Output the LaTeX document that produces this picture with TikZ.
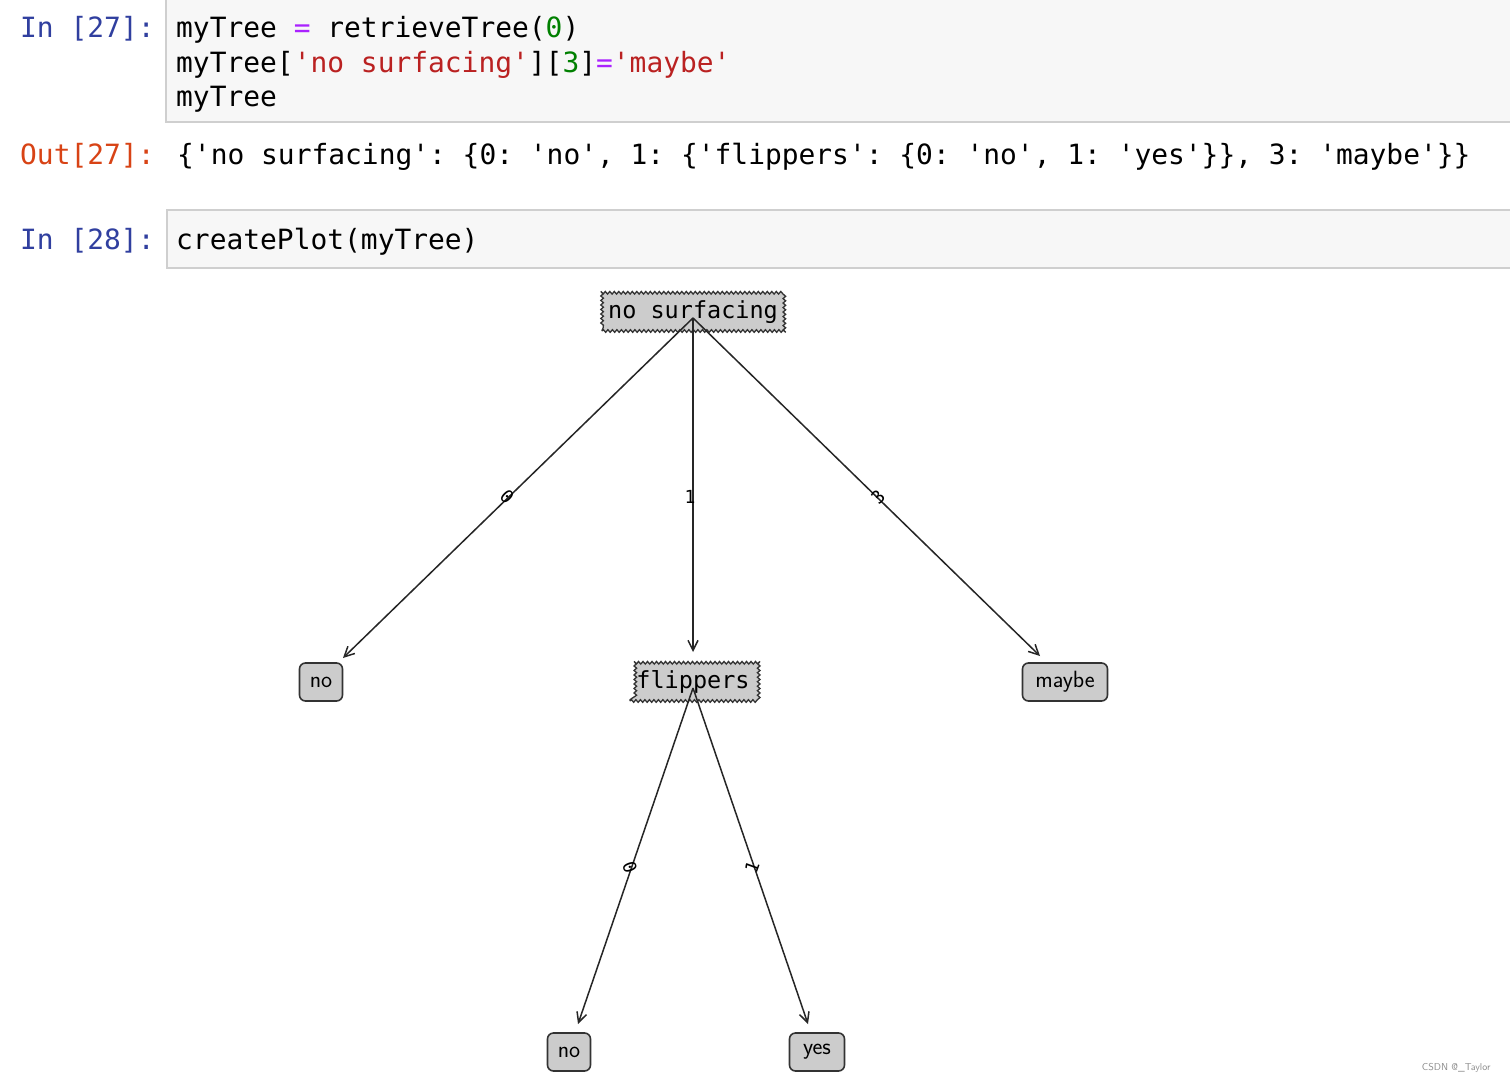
\documentclass[tikz,border=0pt]{standalone}
\usepackage{fontspec}
\setmonofont{DejaVu Sans Mono}
\usetikzlibrary{decorations.pathmorphing,arrows.meta}
\definecolor{inblue}{HTML}{303F9F}
\definecolor{outred}{HTML}{D84315}
\definecolor{strred}{HTML}{BA2121}
\definecolor{numgreen}{HTML}{008000}
\definecolor{oppurple}{HTML}{AA22FF}
\definecolor{cellbg}{HTML}{F7F7F7}
\definecolor{cellbd}{HTML}{CFCFCF}
\begin{document}
\begin{tikzpicture}[x=1pt,y=-1pt,
  code/.style={anchor=base west,inner sep=0,font=\fontsize{27.9}{34}\selectfont\ttfamily},
  cell/.style={fill=cellbg,draw=cellbd,line width=1.2pt},
  dec/.style={draw=black!80,fill=black!20,line width=1.3pt,decorate,decoration={snake,amplitude=1.3pt,segment length=4.5pt},inner sep=0,minimum height=38pt,font=\fontsize{23.5}{28}\selectfont\ttfamily},
  leaf/.style={draw=black!80,fill=black!20,line width=1.6pt,rounded corners=6pt,inner sep=0,minimum height=38pt,font=\fontsize{23.5}{28}\selectfont\sffamily},
  edge/.style={draw=black!85,line width=1.5pt,-{Straight Barb[length=10pt,width=10pt]}},
  elab/.style={font=\fontsize{18}{20}\selectfont\ttfamily,inner sep=0}]
\useasboundingbox (0,0) rectangle (1510,1084);
\fill[white] (0,0) rectangle (1510,1084);
\draw[cell] (166,-5) -- (166,122) -- (1515,122);
\fill[cellbg] (167,-5) rectangle (1515,121);
\draw[cell] (1515,210) -- (167,210) -- (167,268) -- (1515,268);
\node[code,text=inblue] (p1) at (20,37) {In [27]:};
\node[code] (l1) at (176,37) {myTree \textcolor{oppurple}{=} retrieveTree(\textcolor{numgreen}{0})};
\node[code] (l2) at (176,72) {myTree[\textcolor{strred}{'no surfacing'}][\textcolor{numgreen}{3}]\textcolor{oppurple}{=}\textcolor{strred}{'maybe'}};
\node[code] (l3) at (176,106) {myTree};
\node[code,text=outred] (p2) at (20,164) {Out[27]:};
\node[code] (o1) at (177,164) {\{'no surfacing': \{0: 'no', 1: \{'flippers': \{0: 'no', 1: 'yes'\}\}, 3: 'maybe'\}\}};
\node[code,text=inblue] (p3) at (20,249) {In [28]:};
\node[code] (l4) at (176,249) {createPlot(myTree)};

\node[dec,minimum width=182pt] (ns) at (693,312) {no surfacing};
\node[dec,minimum width=126pt] (fl) at (693,682) {flippers};
\node[leaf,minimum width=43pt] (n1) at (321,682) {no};
\node[leaf,minimum width=85pt] (mb) at (1065,682) {maybe};
\node[leaf,minimum width=43pt] (n2) at (569,1052) {no};
\node[leaf,minimum width=55pt] (ys) at (817,1052) {yes};
\coordinate (s1) at (693,318);
\coordinate (s2) at (693,688);
\coordinate (t1) at (343,658);
\coordinate (t2) at (693,652);
\coordinate (t3) at (1040,656);
\coordinate (t4) at (578,1024);
\coordinate (t5) at (808,1024);
\draw[edge] (s1) -- (t1);
\draw[edge] (s1) -- (t2);
\draw[edge] (s1) -- (t3);
\draw[edge] (s2) -- (t4);
\draw[edge] (s2) -- (t5);
\node[elab,rotate=-45] (e1) at (507,497) {0};
\node[elab] (e2) at (690,497) {1};
\node[elab,rotate=45] (e3) at (878,497) {3};
\node[elab,rotate=-70] (e4) at (630,867) {0};
\node[elab,rotate=70] (e5) at (752,867) {1};
\node[font=\fontsize{10}{12}\selectfont\sffamily,text=black!45,anchor=east] (wm) at (1494,1068) {CSDN @\_Taylor};
\end{tikzpicture}
\end{document}
